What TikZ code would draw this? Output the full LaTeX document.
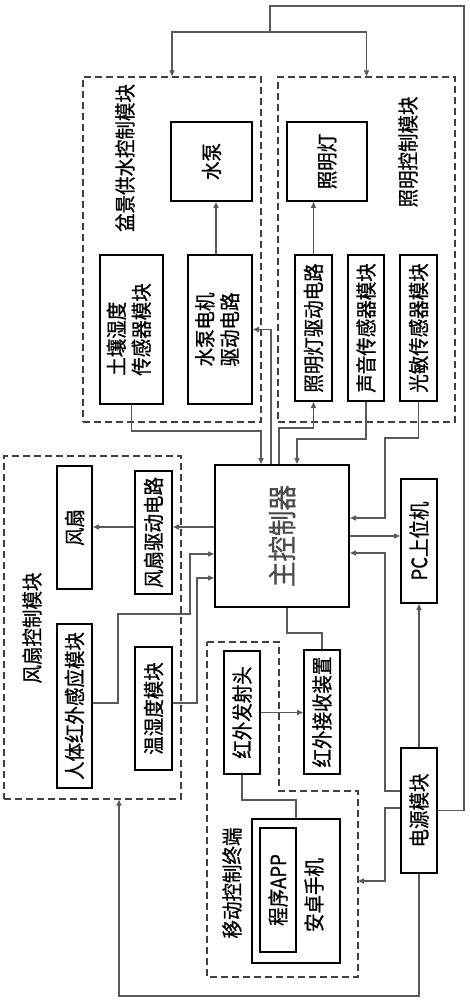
\documentclass[tikz,border=0pt]{standalone}
\usepackage{fontspec}
\setmainfont[FakeStretch=0.88, FakeBold=0.8]{Noto Sans CJK SC}
\usetikzlibrary{arrows.meta}
\newcommand{\vlabel}[1]{\rotatebox{90}{#1}}
\newcommand{\vlabeltwo}[2]{\rotatebox{90}{\begin{tabular}{@{}l@{}}#1\\#2\end{tabular}}}

\begin{document}
\begin{tikzpicture}[x=1pt, y=-1pt, font=\fontsize{21}{24}\selectfont]
    \tikzstyle{box_style} = [draw=black, line width=2pt, inner sep=0pt]
    \tikzstyle{module_style} = [draw=black!75, dash pattern=on 7pt off 4pt, line width=1.3pt, inner sep=0pt]
    \tikzstyle{edge_style} = [draw=black!65, line width=1.4pt]
    \tikzstyle{arrow_style} = [edge_style, -{Triangle[length=6pt,width=5pt]}]
    \useasboundingbox (0,0) rectangle (469,1000);

    % dashed modules
    \node[module_style, minimum width=178pt, minimum height=345pt] (penmod) at (172,249.5) {};
    \node[module_style, minimum width=177pt, minimum height=345pt] (lightmod) at (366.5,249.5) {};
    \node[module_style, minimum width=177pt, minimum height=343pt] (fanmod) at (92.5,627.5) {};
    \draw[module_style] (207,642) -- (279,642) -- (279,791) -- (358,791) -- (358,977) -- (207,977) -- cycle;
    \coordinate (mobE) at (358,881);

    \node (penlabel) at (125,158) {\vlabel{盆景供水控制模块}};
    \node (lightlabel) at (408,152) {\vlabel{照明控制模块}};
    \node (fanlabel) at (32,628) {\vlabel{风扇控制模块}};
    \node (moblabel) at (232,883) {\vlabel{移动控制终端}};

    % blocks
    \node[box_style, minimum width=81pt, minimum height=79pt] (pump) at (211.5,161.5) {\vlabel{水泵}};
    \node[box_style, minimum width=80pt, minimum height=79pt] (lamp) at (327,161.5) {\vlabel{照明灯}};
    \node[box_style, minimum width=63pt, minimum height=149pt] (soil) at (131.5,329.5) {\vlabeltwo{土壤湿度}{传感器模块}};
    \node[box_style, minimum width=64pt, minimum height=149pt] (pumpdrv) at (220,329.5) {\vlabeltwo{水泵电机}{驱动电路}};
    \node[box_style, minimum width=37pt, minimum height=146pt] (lampdrv) at (313.5,328) {\vlabel{照明灯驱动电路}};
    \node[box_style, minimum width=36pt, minimum height=146pt] (sound) at (366,328) {\vlabel{声音传感器模块}};
    \node[box_style, minimum width=37pt, minimum height=146pt] (light) at (418.5,328) {\vlabel{光敏传感器模块}};
    \node[box_style, minimum width=134pt, minimum height=142pt, text=black!70, font=\fontsize{29}{30}\selectfont] (main) at (282,536) {\vlabel{主控制器}};
    \node[box_style, minimum width=35pt, minimum height=123pt] (fan) at (74.5,527.5) {\vlabel{风扇}};
    \node[box_style, minimum width=37pt, minimum height=123pt] (fandrv) at (153.5,532.5) {\vlabel{风扇驱动电路}};
    \node[box_style, minimum width=35pt, minimum height=164pt] (pir) at (74.5,706) {\vlabel{人体红外感应模块}};
    \node[box_style, minimum width=37pt, minimum height=123pt] (humid) at (153.5,708.5) {\vlabel{温湿度模块}};
    \node[box_style, minimum width=36pt, minimum height=124pt] (pc) at (419,541) {\vlabel{PC上位机}};
    \node[box_style, minimum width=36pt, minimum height=123pt] (irtx) at (242,712.5) {\vlabel{红外发射头}};
    \node[box_style, minimum width=36pt, minimum height=124pt] (irrx) at (322,712) {\vlabel{红外接收装置}};
    \node[box_style, minimum width=88pt, minimum height=144pt] (phone) at (296,891) {};
    \node[box_style, minimum width=36pt, minimum height=124pt] (app) at (278,890) {\vlabel{程序APP}};
    \node (phonelabel) at (314,895) {\vlabel{安卓手机}};
    \node[box_style, minimum width=36pt, minimum height=125pt] (power) at (419,810.5) {\vlabel{电源模块}};

    % power bus over the top
    \coordinate (tr) at (464,6);
    \coordinate (bus) at (270,32);
    \draw[edge_style] (power.east) -| (tr) -| (bus);
    \draw[arrow_style] (bus) -| (penmod.north);
    \draw[arrow_style] (bus) -| (lightmod.north);

    \draw[arrow_style] ([xshift=-4pt]pumpdrv.north) -- ([xshift=-4pt]pumpdrv.north |- pump.south);
    \draw[arrow_style] (lampdrv.north) -- (lampdrv.north |- lamp.south);
    \draw[arrow_style] (soil.south) -- ++(0,26) -| ([xshift=-21pt]main.north);
    \draw[arrow_style] ([xshift=-11pt]main.north) |- (pumpdrv.east);
    \draw[arrow_style] ([xshift=-3pt]main.north) -- ++(0,-36) -| (lampdrv.south);
    \draw[arrow_style] (sound.south) -- ++(0,37) -| ([xshift=15pt]main.north);
    \draw[arrow_style] (light.south) |- (385,438) |- ([yshift=18pt]main.east);
    \draw[arrow_style] ([yshift=19.5pt]power.west) -| (385,553) -- ([yshift=-17pt]main.east);
    \draw[arrow_style] (main.east) -- (main.east -| pc.west);
    \draw[arrow_style] (power.north) -- (pc.south);
    \draw[arrow_style] ([yshift=2.5pt]power.west) -| (385,881) -- (mobE);
    \draw[arrow_style] (power.south) -- ++(0,122) -| ([xshift=26.5pt]fanmod.south);

    \draw[arrow_style] ([yshift=9pt]main.west) -- ([yshift=9pt]main.west -| fandrv.east);
    \draw[arrow_style] ([yshift=5.5pt]fandrv.west) -- ([yshift=5.5pt]fandrv.west -| fan.east);
    \draw[arrow_style] ([yshift=3pt]pir.east) -| (118,614) -| (190,554) -- ([yshift=-18pt]main.west);
    \draw[arrow_style] ([yshift=5.5pt]humid.east) -| (197,578) -- ([yshift=-42pt]main.west);

    \draw[edge_style] ([xshift=5pt]main.south) -- ++(0,25) -| (irrx.north);
    \draw[arrow_style] (irtx.east) -- (irtx.east -| irrx.west);
    \draw[edge_style] (irtx.south) -- ++(0,25) -| (phone.north);
\end{tikzpicture}
\end{document}
